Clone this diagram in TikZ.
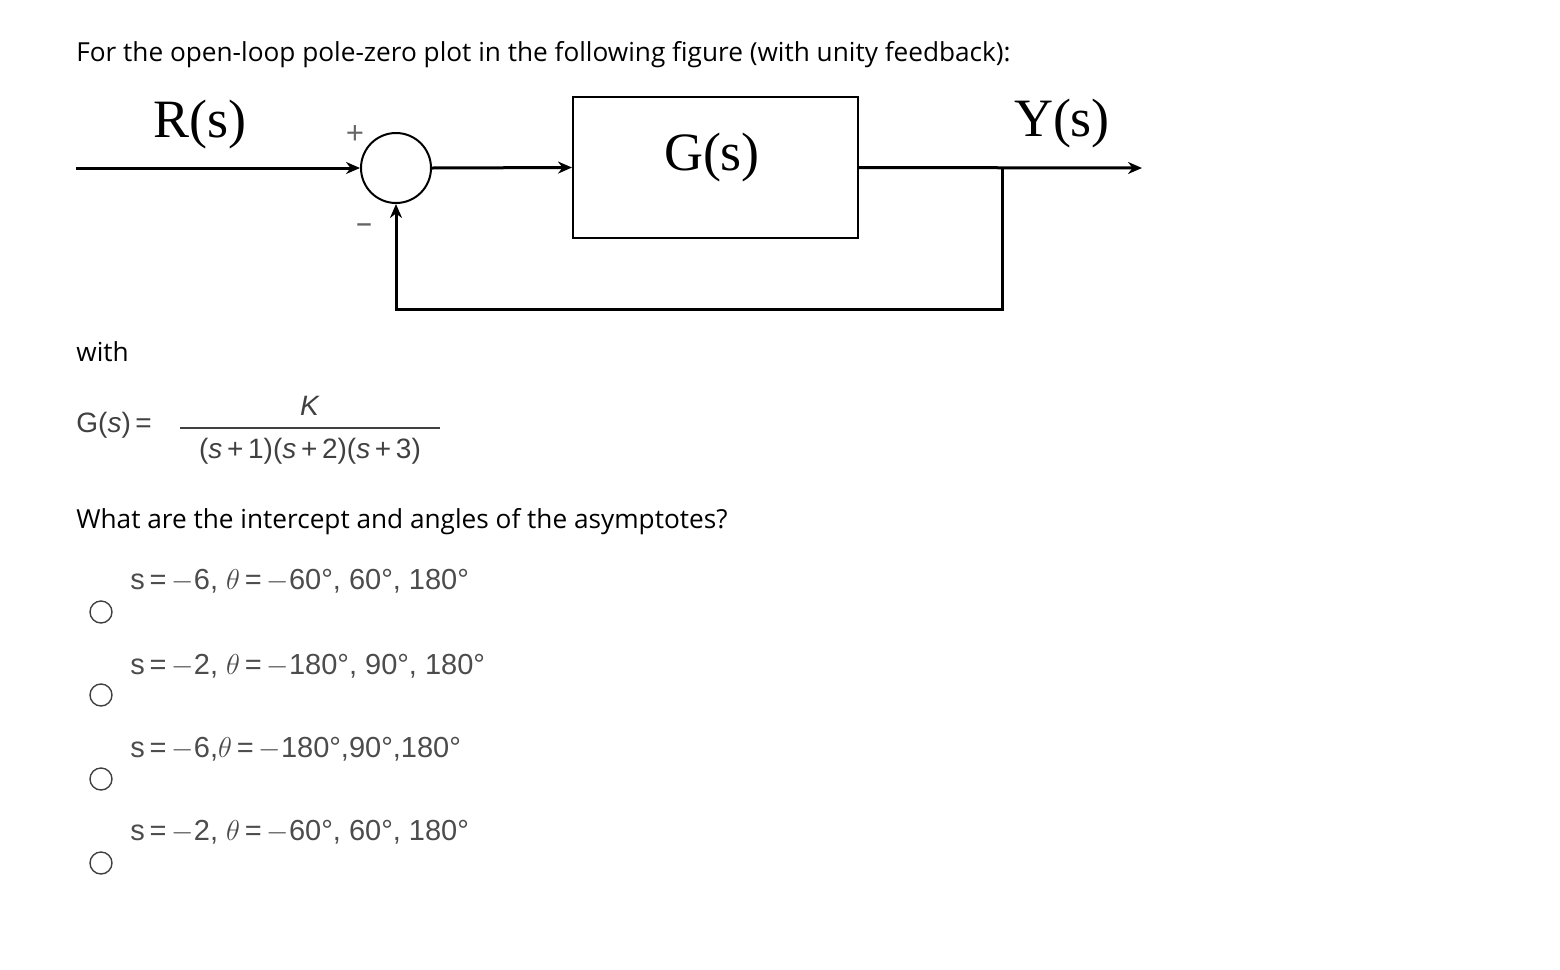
\documentclass[tikz,border=0pt]{standalone}
\usepackage{amsmath}
\usepackage{fontspec}
\setmainfont{Open Sans}
\newfontfamily\serifl{Liberation Serif}
\newfontfamily\arl{Liberation Sans}
\usetikzlibrary{arrows.meta}
\newcommand{\si}{\textit{s}}
\newcommand{\op}[1]{\,#1\,}
\begin{document}
\begin{tikzpicture}[x=0.5pt,y=-0.5pt,
  txt/.style={anchor=west,inner sep=0,font=\fontsize{13.1}{15}\selectfont},
  lbl/.style={inner sep=0,font=\serifl\fontsize{27}{29}\selectfont},
  sig/.style={line width=1.5pt,-{Stealth[length=7pt,width=6pt]}},
  opt/.style={anchor=west,inner sep=0,text=black!70,font=\arl\fontsize{14.5}{16}\selectfont},
  radio/.style={circle,draw=black!75,line width=0.7pt,minimum size=11pt,inner sep=0}]
\useasboundingbox (0,0) rectangle (1560,970);
\node[txt] (t1) at (76,55) {For the open-loop pole-zero plot in the following figure (with unity feedback):};
\coordinate (in) at (76,168);
\node[circle,draw,line width=1pt,minimum size=35pt,inner sep=0] (sum) at (396,168) {};
\node[draw,line width=1pt,minimum width=142.5pt,minimum height=70.5pt,inner sep=0] (G) at (715.5,167.5) {};
\node[lbl] (Gl) at (712,158) {G(s)};
\node[lbl] (R) at (200,125) {R(s)};
\node[lbl] (Y) at (1062,124) {Y(s)};
\node[inner sep=0,font=\fontsize{16}{16}\selectfont\color{black!60}] (p) at (355,135) {+};
\node[inner sep=0,font=\fontsize{16}{16}\selectfont\color{black!60}] (m) at (364,229) {--};
\coordinate (out) at (1142,168);
\coordinate (br) at (1002,168);
\coordinate (c1) at (1002,309);
\coordinate (c2) at (396,309);
\draw[sig] (in) -- (sum.west);
\draw[sig] (sum.east) -- (G.west);
\draw[sig] (G.east) -- (out);
\draw[line width=1.5pt,-{Stealth[length=7pt,width=6pt]}] (br) -- (c1) -- (c2) -- (sum.south);
\node[txt] (w) at (76,352) {with};
\node[anchor=west,inner sep=0,text=black!75,font=\arl\fontsize{14}{16}\selectfont] (eq) at (76,425) {G(\si)\op{=}};
\node[anchor=south,inner sep=0,text=black!75,font=\arl\fontsize{14}{16}\selectfont] (num) at (310,416) {\textit{K}};
\draw[black!75,line width=0.6pt] (180,428) -- (440,428);
\node[anchor=north,inner sep=0,text=black!75,font=\arl\fontsize{14}{16}\selectfont] (den) at (310,438) {(\si\op{+}1)(\si\op{+}2)(\si\op{+}3)};
\node[txt] (q) at (76,522) {What are the intercept and angles of the asymptotes?};
\node[opt] (o1) at (130,581) {s\op{=}$-$6, $\theta$\op{=}$-$60°, 60°, 180°};
\node[opt] (o2) at (130,666) {s\op{=}$-$2, $\theta$\op{=}$-$180°, 90°, 180°};
\node[opt] (o3) at (130,749) {s\op{=}$-$6,$\theta$\op{=}$-$180°,90°,180°};
\node[opt] (o4) at (130,832) {s\op{=}$-$2, $\theta$\op{=}$-$60°, 60°, 180°};
\node[radio] (r1) at (101,612) {};
\node[radio] (r2) at (101,695) {};
\node[radio] (r3) at (101,779) {};
\node[radio] (r4) at (101,863) {};
\end{tikzpicture}
\end{document}
